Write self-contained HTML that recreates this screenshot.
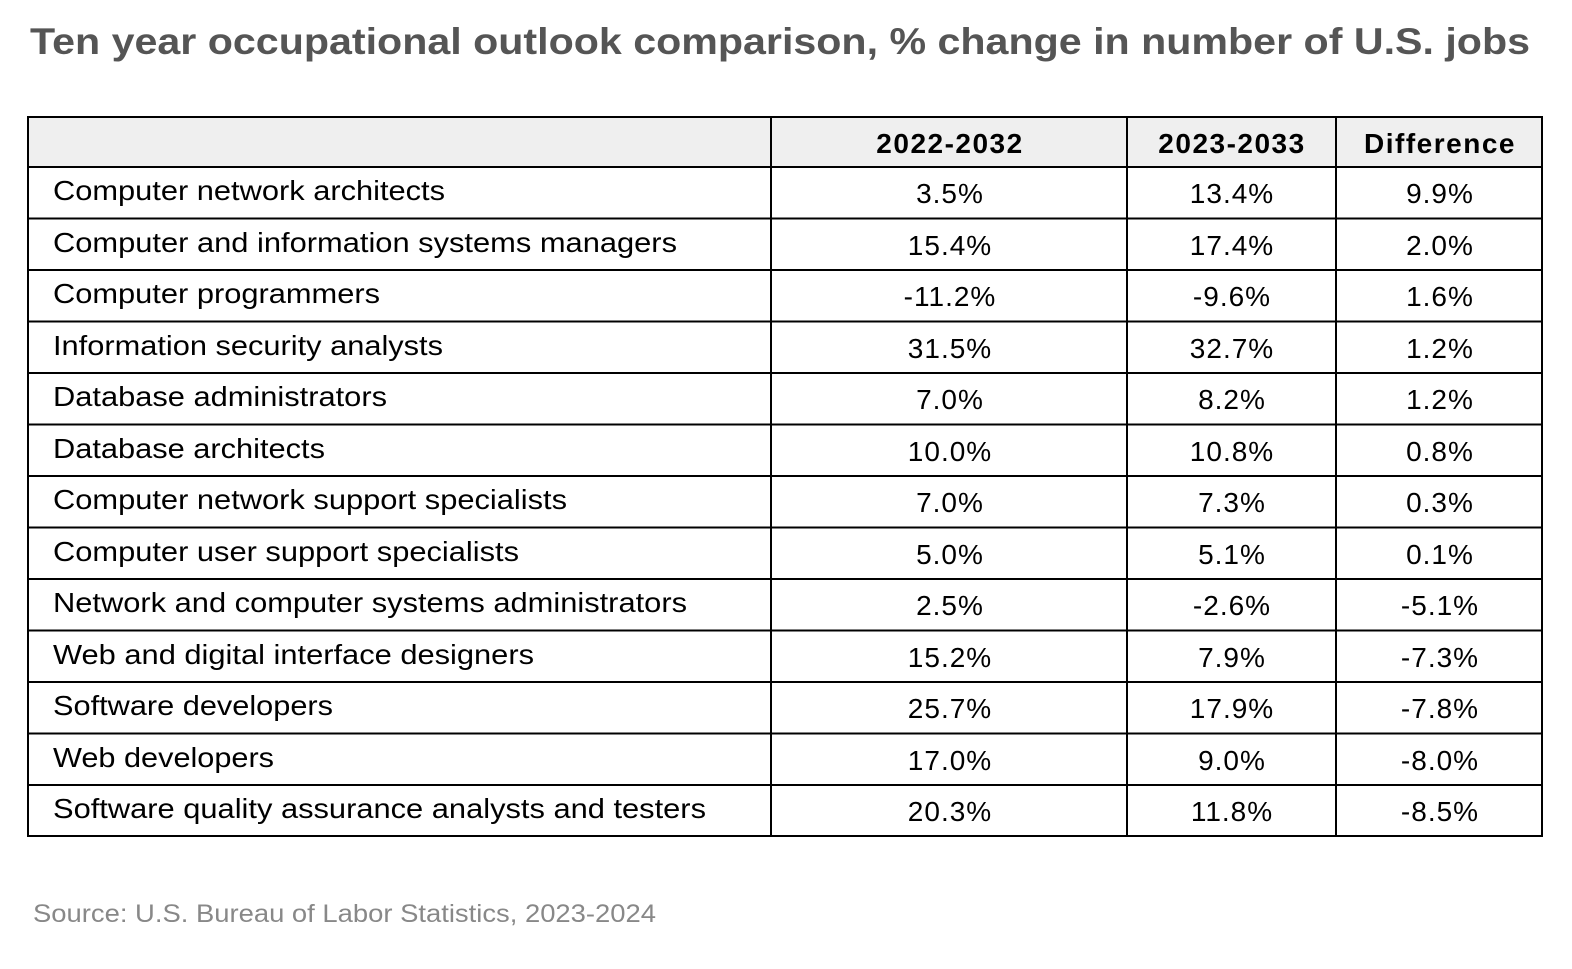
<!DOCTYPE html>
<html><head><meta charset="utf-8"><style>
html,body{margin:0;padding:0;background:#fff;}
</style></head><body>
<svg width="1572" height="964" viewBox="0 0 1572 964" xmlns="http://www.w3.org/2000/svg" font-family="Liberation Sans, Arial, sans-serif">
<rect width="1572" height="964" fill="#fff"/>
<text x="30" y="54" font-size="37" font-weight="bold" fill="#555" textLength="1500" lengthAdjust="spacingAndGlyphs">Ten year occupational outlook comparison, % change in number of U.S. jobs</text>
<rect x="28" y="117" width="1514" height="50" fill="#efefef"/>
<g stroke="#000" stroke-width="2" fill="none">
<rect x="28" y="117" width="1514" height="719"/>
<line x1="771" y1="117" x2="771" y2="836"/>
<line x1="1127" y1="117" x2="1127" y2="836"/>
<line x1="1336" y1="117" x2="1336" y2="836"/>
<line x1="28" y1="167" x2="1542" y2="167"/>
<line x1="28" y1="218.5" x2="1542" y2="218.5"/>
<line x1="28" y1="270" x2="1542" y2="270"/>
<line x1="28" y1="321.5" x2="1542" y2="321.5"/>
<line x1="28" y1="373" x2="1542" y2="373"/>
<line x1="28" y1="424.5" x2="1542" y2="424.5"/>
<line x1="28" y1="476" x2="1542" y2="476"/>
<line x1="28" y1="527.5" x2="1542" y2="527.5"/>
<line x1="28" y1="579" x2="1542" y2="579"/>
<line x1="28" y1="630.5" x2="1542" y2="630.5"/>
<line x1="28" y1="682" x2="1542" y2="682"/>
<line x1="28" y1="733.5" x2="1542" y2="733.5"/>
<line x1="28" y1="785" x2="1542" y2="785"/>
</g>
<g font-size="28" font-weight="bold" fill="#000" text-anchor="middle" letter-spacing="1.5">
<text x="950" y="153">2022-2032</text>
<text x="1232" y="153">2023-2033</text>
<text x="1440" y="153">Difference</text>
</g>
<g font-size="28" fill="#000" lengthAdjust="spacingAndGlyphs">
<text x="53" y="200" textLength="392" lengthAdjust="spacingAndGlyphs">Computer network architects</text>
<text x="53" y="252" textLength="624" lengthAdjust="spacingAndGlyphs">Computer and information systems managers</text>
<text x="53" y="303" textLength="327" lengthAdjust="spacingAndGlyphs">Computer programmers</text>
<text x="53" y="355" textLength="390" lengthAdjust="spacingAndGlyphs">Information security analysts</text>
<text x="53" y="406" textLength="334" lengthAdjust="spacingAndGlyphs">Database administrators</text>
<text x="53" y="458" textLength="272" lengthAdjust="spacingAndGlyphs">Database architects</text>
<text x="53" y="509" textLength="514" lengthAdjust="spacingAndGlyphs">Computer network support specialists</text>
<text x="53" y="561" textLength="466" lengthAdjust="spacingAndGlyphs">Computer user support specialists</text>
<text x="53" y="612" textLength="634" lengthAdjust="spacingAndGlyphs">Network and computer systems administrators</text>
<text x="53" y="664" textLength="481" lengthAdjust="spacingAndGlyphs">Web and digital interface designers</text>
<text x="53" y="715" textLength="280" lengthAdjust="spacingAndGlyphs">Software developers</text>
<text x="53" y="767" textLength="221" lengthAdjust="spacingAndGlyphs">Web developers</text>
<text x="53" y="818" textLength="653" lengthAdjust="spacingAndGlyphs">Software quality assurance analysts and testers</text>
</g>
<g font-size="28" fill="#000" text-anchor="middle" letter-spacing="1">
<text x="950" y="203">3.5%</text><text x="1232" y="203">13.4%</text><text x="1440" y="203">9.9%</text>
<text x="950" y="255">15.4%</text><text x="1232" y="255">17.4%</text><text x="1440" y="255">2.0%</text>
<text x="950" y="306">-11.2%</text><text x="1232" y="306">-9.6%</text><text x="1440" y="306">1.6%</text>
<text x="950" y="358">31.5%</text><text x="1232" y="358">32.7%</text><text x="1440" y="358">1.2%</text>
<text x="950" y="409">7.0%</text><text x="1232" y="409">8.2%</text><text x="1440" y="409">1.2%</text>
<text x="950" y="461">10.0%</text><text x="1232" y="461">10.8%</text><text x="1440" y="461">0.8%</text>
<text x="950" y="512">7.0%</text><text x="1232" y="512">7.3%</text><text x="1440" y="512">0.3%</text>
<text x="950" y="564">5.0%</text><text x="1232" y="564">5.1%</text><text x="1440" y="564">0.1%</text>
<text x="950" y="615">2.5%</text><text x="1232" y="615">-2.6%</text><text x="1440" y="615">-5.1%</text>
<text x="950" y="667">15.2%</text><text x="1232" y="667">7.9%</text><text x="1440" y="667">-7.3%</text>
<text x="950" y="718">25.7%</text><text x="1232" y="718">17.9%</text><text x="1440" y="718">-7.8%</text>
<text x="950" y="770">17.0%</text><text x="1232" y="770">9.0%</text><text x="1440" y="770">-8.0%</text>
<text x="950" y="821">20.3%</text><text x="1232" y="821">11.8%</text><text x="1440" y="821">-8.5%</text>
</g>
<text x="33" y="922" font-size="25" fill="#888" textLength="623" lengthAdjust="spacingAndGlyphs">Source: U.S. Bureau of Labor Statistics, 2023-2024</text>
</svg>
</body></html>
